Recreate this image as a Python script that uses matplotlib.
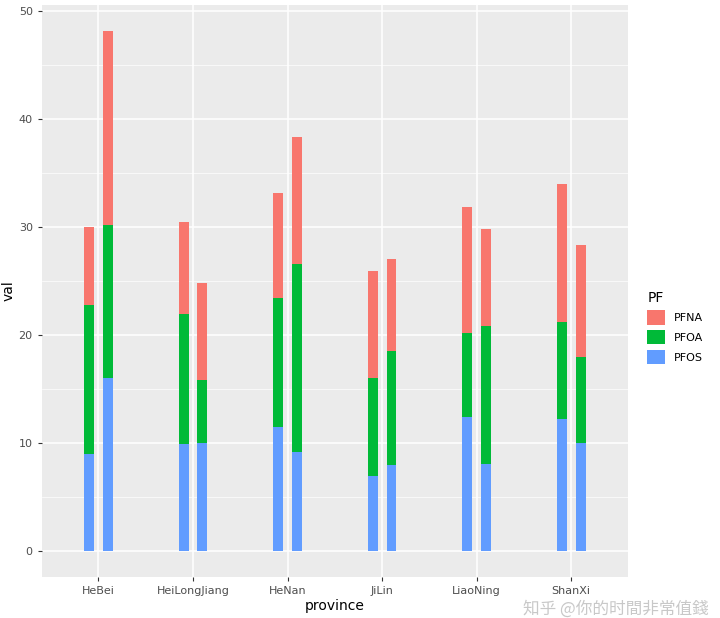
import numpy as np
import matplotlib.pyplot as plt
from matplotlib.patches import Patch

provinces = ["HeBei", "HeiLongJiang", "HeNan", "JiLin", "LiaoNing", "ShanXi"]
# two samples per province: PFOS, PFOA, PFNA segment values
pfos_a = [9.0, 9.9, 11.5, 7.0, 12.4, 12.2]
pfoa_a = [13.8, 12.1, 12.0, 9.0, 7.8, 9.0]
pfna_a = [7.2, 8.5, 9.7, 10.0, 11.7, 12.8]
pfos_b = [16.0, 10.0, 9.2, 8.0, 8.1, 10.0]
pfoa_b = [14.2, 5.9, 17.4, 10.5, 12.8, 8.0]
pfna_b = [18.0, 8.9, 11.8, 8.6, 8.9, 10.4]

colors = {"PFNA": "#F8766D", "PFOA": "#00BA38", "PFOS": "#619CFF"}

fig = plt.figure(figsize=(7.2, 6.18), dpi=100)
ax = fig.add_axes([0.058, 0.066, 0.814, 0.926])
ax.set_facecolor("#EBEBEB")

x = np.arange(1, len(provinces) + 1)
w = 0.105
for off, pfos, pfoa, pfna in [(-0.1, pfos_a, pfoa_a, pfna_a), (0.1, pfos_b, pfoa_b, pfna_b)]:
    pfos = np.array(pfos); pfoa = np.array(pfoa); pfna = np.array(pfna)
    ax.bar(x + off, pfos, w, color=colors["PFOS"], zorder=3)
    ax.bar(x + off, pfoa, w, bottom=pfos, color=colors["PFOA"], zorder=3)
    ax.bar(x + off, pfna, w, bottom=pfos + pfoa, color=colors["PFNA"], zorder=3)

ax.set_xlim(0.4, 6.6)
ax.set_ylim(-2.41, 50.6)
ax.set_xticks(x)
ax.set_xticklabels(provinces)
ax.set_yticks(range(0, 51, 10))
ax.set_yticks(range(5, 50, 10), minor=True)
ax.grid(True, which="major", color="white", lw=1.1, zorder=0)
ax.grid(True, which="minor", axis="y", color="white", lw=0.5, zorder=0)
for s in ax.spines.values():
    s.set_visible(False)
ax.tick_params(which="both", length=3, color="#333333", labelsize=8, labelcolor="#4D4D4D")
ax.tick_params(which="minor", length=0)
ax.set_xlabel("province", fontsize=10, labelpad=2)
ax.set_ylabel("val", fontsize=10, labelpad=2)

handles = [Patch(facecolor=colors[k], label=k) for k in ["PFNA", "PFOA", "PFOS"]]
leg = fig.legend(handles=handles, title="PF", loc="center left", bbox_to_anchor=(0.885, 0.47),
                 frameon=False, fontsize=8, title_fontsize=10, handlelength=1.6, handleheight=1.6)
leg._legend_box.align = "left"

fig.text(0.985, 0.006, "知乎 @你的时間非常值錢", fontsize=12, color="#BBBBBB", alpha=0.8,
         ha="right", family=["Noto Sans CJK JP", "Noto Sans CJK SC", "Noto Sans CJK TC", "DejaVu Sans"])

fig.savefig("out.png", dpi=100)
